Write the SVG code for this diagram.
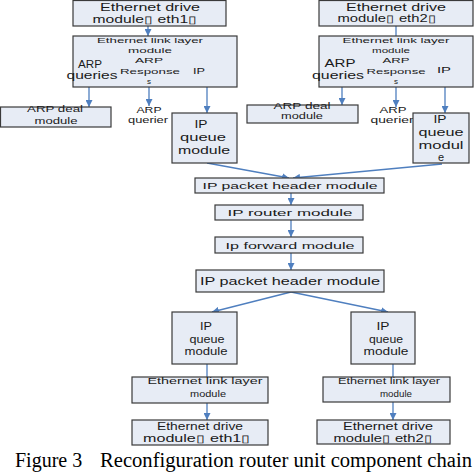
<svg xmlns="http://www.w3.org/2000/svg" width="474" height="472" viewBox="0 0 474 472">
<defs>
<style>
.box{fill:#e7ecf5;stroke:#3a3a3a;stroke-width:1.2}
.t{font-family:"Liberation Sans",Arial,sans-serif;fill:#1a1a1a;text-anchor:middle}
.c{stroke:#4f7fbf;stroke-width:1.3;fill:none}
.cap{font-family:"Liberation Serif","Times New Roman",serif;fill:#000;font-size:20px}
</style>
<marker id="ah" viewBox="0 0 10 10" refX="10" refY="5" markerUnits="userSpaceOnUse" markerWidth="7" markerHeight="7" orient="auto">
<path d="M0,0 L10,5 L0,10 z" fill="#4f7fbf"/>
</marker>
</defs>
<rect width="474" height="472" fill="#fff"/>

<g id="connectors">
<line class="c" x1="148" y1="26" x2="148" y2="36" marker-end="url(#ah)"/>
<line class="c" x1="89" y1="87" x2="89" y2="107" marker-end="url(#ah)"/>
<line class="c" x1="149" y1="87" x2="149" y2="106" marker-end="url(#ah)"/>
<line class="c" x1="207" y1="87" x2="207" y2="113" marker-end="url(#ah)"/>
<line class="c" x1="396" y1="26" x2="396" y2="36"/>
<line class="c" x1="342" y1="87" x2="342" y2="105" marker-end="url(#ah)"/>
<line class="c" x1="396" y1="87" x2="396" y2="107" marker-end="url(#ah)"/>
<line class="c" x1="445" y1="87" x2="445" y2="113" marker-end="url(#ah)"/>
<line class="c" x1="207" y1="163" x2="289" y2="178" marker-end="url(#ah)"/>
<line class="c" x1="442" y1="164" x2="293" y2="178" marker-end="url(#ah)"/>
<line class="c" x1="291" y1="193" x2="291" y2="205" marker-end="url(#ah)"/>
<line class="c" x1="291" y1="220" x2="291" y2="237" marker-end="url(#ah)"/>
<line class="c" x1="291" y1="253" x2="291" y2="270" marker-end="url(#ah)"/>
<line class="c" x1="291" y1="292" x2="212" y2="312" marker-end="url(#ah)"/>
<line class="c" x1="291" y1="292" x2="388" y2="312" marker-end="url(#ah)"/>
<line class="c" x1="207" y1="364" x2="207" y2="385" marker-end="url(#ah)"/>
<line class="c" x1="207" y1="403" x2="207" y2="420" marker-end="url(#ah)"/>
<line class="c" x1="393" y1="364" x2="393" y2="385" marker-end="url(#ah)"/>
<line class="c" x1="393" y1="402" x2="393" y2="420" marker-end="url(#ah)"/>
</g>

<g id="drive1-top">
<rect class="box" x="73" y="0.5" width="153" height="25.5"/>
<text class="t" x="150" y="11" font-size="10" textLength="100" lengthAdjust="spacingAndGlyphs">Ethernet drive</text>
<text class="t" x="145" y="23" font-size="10" textLength="105" lengthAdjust="spacingAndGlyphs">module▯ eth1▯</text>
</g>

<g id="link1-top">
<rect class="box" x="73" y="36" width="164" height="51"/>
<text class="t" x="150" y="43" font-size="8" textLength="106" lengthAdjust="spacingAndGlyphs">Ethernet link layer</text>
<text class="t" x="150" y="53" font-size="8" textLength="44" lengthAdjust="spacingAndGlyphs">module</text>
<text class="t" x="149" y="63" font-size="8" textLength="28" lengthAdjust="spacingAndGlyphs">ARP</text>
<text class="t" x="150" y="74" font-size="8" textLength="60" lengthAdjust="spacingAndGlyphs">Response</text>
<text class="t" x="149" y="84" font-size="8">s</text>
<text class="t" x="90" y="68" font-size="11" textLength="24" lengthAdjust="spacingAndGlyphs">ARP</text>
<text class="t" x="92" y="79" font-size="11" textLength="51" lengthAdjust="spacingAndGlyphs">queries</text>
<text class="t" x="199" y="74" font-size="8.5" textLength="12" lengthAdjust="spacingAndGlyphs">IP</text>
</g>

<g id="arpdeal1">
<rect class="box" x="0.5" y="107" width="110.5" height="20"/>
<text class="t" x="55" y="112" font-size="9" textLength="56" lengthAdjust="spacingAndGlyphs">ARP deal</text>
<text class="t" x="56" y="124" font-size="9" textLength="43" lengthAdjust="spacingAndGlyphs">module</text>
</g>

<g id="arpquerier1">
<text class="t" x="149" y="113" font-size="9" textLength="25" lengthAdjust="spacingAndGlyphs">ARP</text>
<text class="t" x="148" y="123" font-size="9" textLength="40" lengthAdjust="spacingAndGlyphs">querier</text>
</g>

<g id="ipqueue1-top">
<rect class="box" x="172" y="113" width="65" height="50"/>
<text class="t" x="201" y="128" font-size="11" textLength="13" lengthAdjust="spacingAndGlyphs">IP</text>
<text class="t" x="203" y="141" font-size="11" textLength="46" lengthAdjust="spacingAndGlyphs">queue</text>
<text class="t" x="204" y="154" font-size="11" textLength="52" lengthAdjust="spacingAndGlyphs">module</text>
</g>

<g id="drive2-top">
<rect class="box" x="319" y="0.5" width="154" height="25.5"/>
<text class="t" x="396" y="11" font-size="10" textLength="100" lengthAdjust="spacingAndGlyphs">Ethernet drive</text>
<text class="t" x="387" y="22" font-size="10" textLength="99" lengthAdjust="spacingAndGlyphs">module▯ eth2▯</text>
</g>

<g id="link2-top">
<rect class="box" x="319" y="36" width="154" height="51"/>
<text class="t" x="396" y="43" font-size="8" textLength="107" lengthAdjust="spacingAndGlyphs">Ethernet link layer</text>
<text class="t" x="391" y="53" font-size="8" textLength="38" lengthAdjust="spacingAndGlyphs">module</text>
<text class="t" x="396" y="63" font-size="8" textLength="27" lengthAdjust="spacingAndGlyphs">ARP</text>
<text class="t" x="396" y="74" font-size="8" textLength="59" lengthAdjust="spacingAndGlyphs">Response</text>
<text class="t" x="396" y="84" font-size="8">s</text>
<text class="t" x="340" y="67" font-size="11" textLength="31" lengthAdjust="spacingAndGlyphs">ARP</text>
<text class="t" x="338" y="79" font-size="11" textLength="52" lengthAdjust="spacingAndGlyphs">queries</text>
<text class="t" x="444" y="73" font-size="8.5" textLength="14" lengthAdjust="spacingAndGlyphs">IP</text>
</g>

<g id="arpdeal2">
<rect class="box" x="247" y="105" width="111" height="18"/>
<text class="t" x="302" y="109" font-size="9" textLength="57" lengthAdjust="spacingAndGlyphs">ARP deal</text>
<text class="t" x="302" y="119" font-size="9" textLength="42" lengthAdjust="spacingAndGlyphs">module</text>
</g>

<g id="arpquerier2">
<text class="t" x="393" y="113" font-size="9" textLength="27" lengthAdjust="spacingAndGlyphs">ARP</text>
<text class="t" x="392" y="123" font-size="9" textLength="43" lengthAdjust="spacingAndGlyphs">querier</text>
</g>

<g id="ipqueue2-top">
<rect class="box" x="413" y="113" width="56" height="50"/>
<text class="t" x="440" y="123" font-size="11" textLength="13" lengthAdjust="spacingAndGlyphs">IP</text>
<text class="t" x="441" y="136" font-size="11" textLength="45" lengthAdjust="spacingAndGlyphs">queue</text>
<text class="t" x="441" y="149" font-size="11" textLength="45" lengthAdjust="spacingAndGlyphs">modul</text>
<text class="t" x="441" y="161" font-size="11">e</text>
</g>

<g id="header1">
<rect class="box" x="195" y="178" width="189" height="15"/>
<text class="t" x="290" y="189" font-size="9.5" textLength="175" lengthAdjust="spacingAndGlyphs">IP packet header module</text>
</g>

<g id="router">
<rect class="box" x="215" y="205" width="148" height="15"/>
<text class="t" x="290" y="216" font-size="9.5" textLength="125" lengthAdjust="spacingAndGlyphs">IP  router module</text>
</g>

<g id="forward">
<rect class="box" x="215" y="237" width="148" height="16"/>
<text class="t" x="290" y="249" font-size="9.5" textLength="129" lengthAdjust="spacingAndGlyphs">Ip forward module</text>
</g>

<g id="header2">
<rect class="box" x="196" y="270" width="188" height="22"/>
<text class="t" x="290" y="285" font-size="10" textLength="180" lengthAdjust="spacingAndGlyphs">IP packet header module</text>
</g>

<g id="ipqueue1-bottom">
<rect class="box" x="172" y="312" width="65" height="52"/>
<text class="t" x="206" y="330" font-size="11" textLength="12" lengthAdjust="spacingAndGlyphs">IP</text>
<text class="t" x="207" y="343" font-size="11" textLength="35" lengthAdjust="spacingAndGlyphs">queue</text>
<text class="t" x="206" y="355" font-size="11" textLength="43" lengthAdjust="spacingAndGlyphs">module</text>
</g>

<g id="ipqueue2-bottom">
<rect class="box" x="351" y="312" width="64" height="52"/>
<text class="t" x="383" y="330" font-size="11" textLength="13" lengthAdjust="spacingAndGlyphs">IP</text>
<text class="t" x="386" y="343" font-size="11" textLength="34" lengthAdjust="spacingAndGlyphs">queue</text>
<text class="t" x="386" y="355" font-size="11" textLength="45" lengthAdjust="spacingAndGlyphs">module</text>
</g>

<g id="link1-bottom">
<rect class="box" x="132" y="377" width="136" height="26"/>
<text class="t" x="205" y="384" font-size="8.5" textLength="115" lengthAdjust="spacingAndGlyphs">Ethernet  link layer</text>
<text class="t" x="208" y="397" font-size="8.5" textLength="36" lengthAdjust="spacingAndGlyphs">module</text>
</g>

<g id="drive1-bottom">
<rect class="box" x="132" y="420" width="136" height="25"/>
<text class="t" x="200" y="430" font-size="10" textLength="86" lengthAdjust="spacingAndGlyphs">Ethernet drive</text>
<text class="t" x="197" y="442" font-size="10" textLength="108" lengthAdjust="spacingAndGlyphs">module▯ eth1▯</text>
</g>

<g id="link2-bottom">
<rect class="box" x="323" y="377" width="127" height="25"/>
<text class="t" x="389" y="384" font-size="8.5" textLength="102" lengthAdjust="spacingAndGlyphs">Ethernet  link layer</text>
<text class="t" x="396" y="397" font-size="8.5" textLength="32" lengthAdjust="spacingAndGlyphs">module</text>
</g>

<g id="drive2-bottom">
<rect class="box" x="317" y="420" width="133" height="24"/>
<text class="t" x="388" y="430" font-size="10" textLength="90" lengthAdjust="spacingAndGlyphs">Ethernet drive</text>
<text class="t" x="383" y="442" font-size="10" textLength="99" lengthAdjust="spacingAndGlyphs">module▯ eth2▯</text>
</g>

<g id="caption">
<text class="cap" x="15" y="467">Figure 3</text>
<text class="cap" x="100" y="467" textLength="372" lengthAdjust="spacingAndGlyphs">Reconfiguration router unit component chain</text>
</g>
</svg>
